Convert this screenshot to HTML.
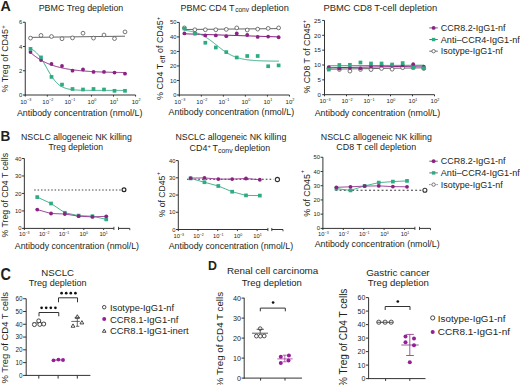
<!DOCTYPE html>
<html><head><meta charset="utf-8"><style>
html,body{margin:0;padding:0;background:#fff;}
svg{display:block;}
text{font-family:"Liberation Sans", sans-serif;}
</style></head><body>
<svg width="520" height="385" viewBox="0 0 520 385" font-family='"Liberation Sans", sans-serif' fill="#231f20">
<rect width="520" height="385" fill="#fff"/>
<text x="0.4" y="11" font-size="14" font-weight="bold" textLength="10.3" lengthAdjust="spacingAndGlyphs">A</text>
<text x="0.5" y="140.9" font-size="14.2" font-weight="bold" textLength="9.8" lengthAdjust="spacingAndGlyphs">B</text>
<text x="0.4" y="279.7" font-size="16" font-weight="bold" textLength="10.4" lengthAdjust="spacingAndGlyphs">C</text>
<text x="207.9" y="269.8" font-size="12.4" font-weight="bold">D</text>
<text x="81" y="10.6" font-size="8.9" text-anchor="middle" textLength="84.6" lengthAdjust="spacingAndGlyphs">PBMC Treg depletion</text>
<line x1="25.25" y1="22.25" x2="25.25" y2="95.5" stroke="#333" stroke-width="1" />
<line x1="22.95" y1="95" x2="25.25" y2="95" stroke="#333" stroke-width="1" />
<text x="22.35" y="97.09" font-size="5.8" text-anchor="end">0</text>
<line x1="22.95" y1="70.75" x2="25.25" y2="70.75" stroke="#333" stroke-width="1" />
<text x="22.35" y="72.84" font-size="5.8" text-anchor="end">2</text>
<line x1="22.95" y1="46.5" x2="25.25" y2="46.5" stroke="#333" stroke-width="1" />
<text x="22.35" y="48.59" font-size="5.8" text-anchor="end">4</text>
<line x1="22.95" y1="22.25" x2="25.25" y2="22.25" stroke="#333" stroke-width="1" />
<text x="22.35" y="24.34" font-size="5.8" text-anchor="end">6</text>
<line x1="24.75" y1="95" x2="135.6" y2="95" stroke="#333" stroke-width="1" />
<line x1="25.25" y1="95" x2="25.25" y2="96.6" stroke="#333" stroke-width="1" />
<text x="25.75" y="103.6" font-size="6" text-anchor="middle" fill="#231f20">10<tspan font-size="3.72" dy="-2.16">&#8722;3</tspan></text>
<line x1="47.32" y1="95" x2="47.32" y2="96.6" stroke="#333" stroke-width="1" />
<text x="47.82" y="103.6" font-size="6" text-anchor="middle" fill="#231f20">10<tspan font-size="3.72" dy="-2.16">&#8722;2</tspan></text>
<line x1="69.39" y1="95" x2="69.39" y2="96.6" stroke="#333" stroke-width="1" />
<text x="69.89" y="103.6" font-size="6" text-anchor="middle" fill="#231f20">10<tspan font-size="3.72" dy="-2.16">&#8722;1</tspan></text>
<line x1="91.46" y1="95" x2="91.46" y2="96.6" stroke="#333" stroke-width="1" />
<text x="91.96" y="103.6" font-size="6" text-anchor="middle" fill="#231f20">10<tspan font-size="3.72" dy="-2.16">0</tspan></text>
<line x1="113.53" y1="95" x2="113.53" y2="96.6" stroke="#333" stroke-width="1" />
<text x="114.03" y="103.6" font-size="6" text-anchor="middle" fill="#231f20">10<tspan font-size="3.72" dy="-2.16">1</tspan></text>
<line x1="135.6" y1="95" x2="135.6" y2="96.6" stroke="#333" stroke-width="1" />
<text x="136.1" y="103.6" font-size="6" text-anchor="middle" fill="#231f20">10<tspan font-size="3.72" dy="-2.16">2</tspan></text>
<text x="79.7" y="115.6" font-size="8.9" text-anchor="middle" textLength="125.6" lengthAdjust="spacingAndGlyphs">Antibody concentration (nmol/L)</text>
<text x="0" y="0" transform="translate(8.3 92.6) rotate(-90)" font-size="8.94" textLength="63.6" lengthAdjust="spacingAndGlyphs">% Treg of CD45</text>
<text x="0" y="0" transform="translate(4.9 28.8) rotate(-90)" font-size="6">+</text>
<line x1="30.5" y1="37.4" x2="125" y2="36.2" stroke="#555" stroke-width="0.9" />
<polyline points="30.5,52.4 31,52.86 31.5,53.31 32,53.74 32.5,54.17 33,54.59 33.5,55 34,55.4 34.5,55.79 35,56.17 35.5,56.55 36,56.91 36.5,57.27 37,57.62 37.5,57.96 38,58.29 38.5,58.62 39,58.94 39.5,59.25 40,59.55 40.5,59.85 41,60.14 41.5,60.43 42,60.7 42.5,60.98 43,61.24 43.5,61.5 44,61.76 44.5,62 45,62.25 45.5,62.48 46,62.72 46.5,62.94 47,63.16 47.5,63.38 48,63.59 48.5,63.8 49,64 49.5,64.2 50,64.39 50.5,64.58 51,64.77 51.5,64.95 52,65.12 52.5,65.3 53,65.46 53.5,65.63 54,65.79 54.5,65.95 55,66.1 55.5,66.25 56,66.4 56.5,66.54 57,66.68 57.5,66.82 58,66.96 58.5,67.09 59,67.22 59.5,67.34 60,67.46 60.5,67.58 61,67.7 61.5,67.81 62,67.93 62.5,68.04 63,68.14 63.5,68.25 64,68.35 64.5,68.45 65,68.55 65.5,68.64 66,68.74 66.5,68.83 67,68.92 67.5,69 68,69.09 68.5,69.17 69,69.26 69.5,69.33 70,69.41 70.5,69.49 71,69.56 71.5,69.64 72,69.71 72.5,69.78 73,69.84 73.5,69.91 74,69.98 74.5,70.04 75,70.1 75.5,70.16 76,70.22 76.5,70.28 77,70.34 77.5,70.39 78,70.45 78.5,70.5 79,70.55 79.5,70.6 80,70.65 80.5,70.7 81,70.75 81.5,70.79 82,70.84 82.5,70.88 83,70.92 83.5,70.97 84,71.01 84.5,71.05 85,71.09 85.5,71.13 86,71.16 86.5,71.2 87,71.24 87.5,71.27 88,71.31 88.5,71.34 89,71.37 89.5,71.4 90,71.44 90.5,71.47 91,71.5 91.5,71.53 92,71.55 92.5,71.58 93,71.61 93.5,71.64 94,71.66 94.5,71.69 95,71.71 95.5,71.74 96,71.76 96.5,71.78 97,71.81 97.5,71.83 98,71.85 98.5,71.87 99,71.89 99.5,71.91 100,71.93 100.5,71.95 101,71.97 101.5,71.99 102,72.01 102.5,72.03 103,72.04 103.5,72.06 104,72.08 104.5,72.09 105,72.11 105.5,72.13 106,72.14 106.5,72.16 107,72.17 107.5,72.18 108,72.2 108.5,72.21 109,72.22 109.5,72.24 110,72.25 110.5,72.26 111,72.27 111.5,72.29 112,72.3 112.5,72.31 113,72.32 113.5,72.33 114,72.34 114.5,72.35 115,72.36 115.5,72.37 116,72.38 116.5,72.39 117,72.4 117.5,72.41 118,72.42 118.5,72.43 119,72.43 119.5,72.44 120,72.45 120.5,72.46 121,72.47 121.5,72.47 122,72.48 122.5,72.49 123,72.5 123.5,72.5 124,72.51 124.5,72.52 125,72.52" fill="none" stroke="#8a2283" stroke-width="1" />
<polyline points="30.5,48.59 31,48.84 31.5,49.1 32,49.38 32.5,49.68 33,50 33.5,50.34 34,50.7 34.5,51.08 35,51.49 35.5,51.92 36,52.38 36.5,52.86 37,53.37 37.5,53.9 38,54.46 38.5,55.05 39,55.67 39.5,56.31 40,56.98 40.5,57.68 41,58.4 41.5,59.14 42,59.91 42.5,60.7 43,61.52 43.5,62.35 44,63.19 44.5,64.05 45,64.92 45.5,65.8 46,66.69 46.5,67.58 47,68.47 47.5,69.36 48,70.25 48.5,71.13 49,72 49.5,72.85 50,73.69 50.5,74.52 51,75.32 51.5,76.1 52,76.87 52.5,77.6 53,78.32 53.5,79.01 54,79.67 54.5,80.3 55,80.91 55.5,81.49 56,82.04 56.5,82.57 57,83.07 57.5,83.54 58,83.99 58.5,84.41 59,84.81 59.5,85.19 60,85.54 60.5,85.87 61,86.19 61.5,86.48 62,86.75 62.5,87.01 63,87.25 63.5,87.48 64,87.69 64.5,87.88 65,88.06 65.5,88.23 66,88.39 66.5,88.54 67,88.67 67.5,88.8 68,88.92 68.5,89.03 69,89.13 69.5,89.22 70,89.31 70.5,89.39 71,89.47 71.5,89.54 72,89.6 72.5,89.66 73,89.72 73.5,89.77 74,89.82 74.5,89.86 75,89.9 75.5,89.94 76,89.97 76.5,90.01 77,90.03 77.5,90.06 78,90.09 78.5,90.11 79,90.13 79.5,90.15 80,90.17 80.5,90.19 81,90.21 81.5,90.22 82,90.23 82.5,90.25 83,90.26 83.5,90.27 84,90.28 84.5,90.29 85,90.3 85.5,90.3 86,90.31 86.5,90.32 87,90.32 87.5,90.33 88,90.34 88.5,90.34 89,90.35 89.5,90.35 90,90.35 90.5,90.36 91,90.36 91.5,90.36 92,90.37 92.5,90.37 93,90.37 93.5,90.37 94,90.38 94.5,90.38 95,90.38 95.5,90.38 96,90.38 96.5,90.38 97,90.38 97.5,90.39 98,90.39 98.5,90.39 99,90.39 99.5,90.39 100,90.39 100.5,90.39 101,90.39 101.5,90.39 102,90.39 102.5,90.39 103,90.39 103.5,90.39 104,90.39 104.5,90.4 105,90.4 105.5,90.4 106,90.4 106.5,90.4 107,90.4 107.5,90.4 108,90.4 108.5,90.4 109,90.4 109.5,90.4 110,90.4 110.5,90.4 111,90.4 111.5,90.4 112,90.4 112.5,90.4 113,90.4 113.5,90.4 114,90.4 114.5,90.4 115,90.4 115.5,90.4 116,90.4 116.5,90.4 117,90.4 117.5,90.4 118,90.4 118.5,90.4 119,90.4 119.5,90.4 120,90.4 120.5,90.4 121,90.4 121.5,90.4 122,90.4 122.5,90.4 123,90.4 123.5,90.4 124,90.4 124.5,90.4 125,90.4" fill="none" stroke="#2fab83" stroke-width="1" />
<circle cx="30.5" cy="38.1" r="1.9" fill="white" stroke="#555" stroke-width="0.8"/>
<circle cx="41" cy="35.4" r="1.9" fill="white" stroke="#555" stroke-width="0.8"/>
<circle cx="51.5" cy="36.5" r="1.9" fill="white" stroke="#555" stroke-width="0.8"/>
<circle cx="62" cy="38.75" r="1.9" fill="white" stroke="#555" stroke-width="0.8"/>
<circle cx="72.5" cy="37.9" r="1.9" fill="white" stroke="#555" stroke-width="0.8"/>
<circle cx="83" cy="33.2" r="1.9" fill="white" stroke="#555" stroke-width="0.8"/>
<circle cx="93.5" cy="38.1" r="1.9" fill="white" stroke="#555" stroke-width="0.8"/>
<circle cx="104" cy="35" r="1.9" fill="white" stroke="#555" stroke-width="0.8"/>
<circle cx="114.5" cy="38.6" r="1.9" fill="white" stroke="#555" stroke-width="0.8"/>
<circle cx="125" cy="31.9" r="1.9" fill="white" stroke="#555" stroke-width="0.8"/>
<circle cx="30.5" cy="52.1" r="1.9" fill="#8a2283"/>
<circle cx="41" cy="60" r="1.9" fill="#8a2283"/>
<circle cx="51.5" cy="64" r="1.9" fill="#8a2283"/>
<circle cx="62" cy="66" r="1.9" fill="#8a2283"/>
<circle cx="72.5" cy="70.7" r="1.9" fill="#8a2283"/>
<circle cx="83" cy="69.5" r="1.9" fill="#8a2283"/>
<circle cx="93.5" cy="71.9" r="1.9" fill="#8a2283"/>
<circle cx="104" cy="71.9" r="1.9" fill="#8a2283"/>
<circle cx="114.5" cy="72.6" r="1.9" fill="#8a2283"/>
<circle cx="125" cy="73.7" r="1.9" fill="#8a2283"/>
<rect x="28.65" y="47.05" width="3.7" height="3.7" fill="#2fab83"/>
<rect x="39.15" y="55.55" width="3.7" height="3.7" fill="#2fab83"/>
<rect x="49.65" y="75.05" width="3.7" height="3.7" fill="#2fab83"/>
<rect x="60.15" y="82.75" width="3.7" height="3.7" fill="#2fab83"/>
<rect x="70.65" y="87.15" width="3.7" height="3.7" fill="#2fab83"/>
<rect x="81.15" y="87.65" width="3.7" height="3.7" fill="#2fab83"/>
<rect x="91.65" y="87.15" width="3.7" height="3.7" fill="#2fab83"/>
<rect x="102.15" y="87.65" width="3.7" height="3.7" fill="#2fab83"/>
<rect x="112.65" y="88.95" width="3.7" height="3.7" fill="#2fab83"/>
<rect x="123.15" y="88.95" width="3.7" height="3.7" fill="#2fab83"/>
<text x="180.5" y="10.5" font-size="8.96" textLength="54.1" lengthAdjust="spacingAndGlyphs">PBMC CD4 T</text>
<text x="235.2" y="12.4" font-size="6.5" textLength="13.8" lengthAdjust="spacingAndGlyphs">conv</text>
<text x="251.3" y="10.5" font-size="9.2" textLength="37.6" lengthAdjust="spacingAndGlyphs">depletion</text>
<line x1="179.3" y1="22.4" x2="179.3" y2="95.5" stroke="#333" stroke-width="1" />
<line x1="177" y1="95" x2="179.3" y2="95" stroke="#333" stroke-width="1" />
<text x="176.4" y="97.09" font-size="5.8" text-anchor="end">0</text>
<line x1="177" y1="80.48" x2="179.3" y2="80.48" stroke="#333" stroke-width="1" />
<text x="176.4" y="82.57" font-size="5.8" text-anchor="end">10</text>
<line x1="177" y1="65.96" x2="179.3" y2="65.96" stroke="#333" stroke-width="1" />
<text x="176.4" y="68.05" font-size="5.8" text-anchor="end">20</text>
<line x1="177" y1="51.44" x2="179.3" y2="51.44" stroke="#333" stroke-width="1" />
<text x="176.4" y="53.53" font-size="5.8" text-anchor="end">30</text>
<line x1="177" y1="36.92" x2="179.3" y2="36.92" stroke="#333" stroke-width="1" />
<text x="176.4" y="39.01" font-size="5.8" text-anchor="end">40</text>
<line x1="177" y1="22.4" x2="179.3" y2="22.4" stroke="#333" stroke-width="1" />
<text x="176.4" y="24.49" font-size="5.8" text-anchor="end">50</text>
<line x1="178.8" y1="95" x2="289.45" y2="95" stroke="#333" stroke-width="1" />
<line x1="179.3" y1="95" x2="179.3" y2="96.6" stroke="#333" stroke-width="1" />
<text x="179.8" y="103.6" font-size="6" text-anchor="middle" fill="#231f20">10<tspan font-size="3.72" dy="-2.16">&#8722;3</tspan></text>
<line x1="201.33" y1="95" x2="201.33" y2="96.6" stroke="#333" stroke-width="1" />
<text x="201.83" y="103.6" font-size="6" text-anchor="middle" fill="#231f20">10<tspan font-size="3.72" dy="-2.16">&#8722;2</tspan></text>
<line x1="223.36" y1="95" x2="223.36" y2="96.6" stroke="#333" stroke-width="1" />
<text x="223.86" y="103.6" font-size="6" text-anchor="middle" fill="#231f20">10<tspan font-size="3.72" dy="-2.16">&#8722;1</tspan></text>
<line x1="245.39" y1="95" x2="245.39" y2="96.6" stroke="#333" stroke-width="1" />
<text x="245.89" y="103.6" font-size="6" text-anchor="middle" fill="#231f20">10<tspan font-size="3.72" dy="-2.16">0</tspan></text>
<line x1="267.42" y1="95" x2="267.42" y2="96.6" stroke="#333" stroke-width="1" />
<text x="267.92" y="103.6" font-size="6" text-anchor="middle" fill="#231f20">10<tspan font-size="3.72" dy="-2.16">1</tspan></text>
<line x1="289.45" y1="95" x2="289.45" y2="96.6" stroke="#333" stroke-width="1" />
<text x="289.95" y="103.6" font-size="6" text-anchor="middle" fill="#231f20">10<tspan font-size="3.72" dy="-2.16">2</tspan></text>
<text x="231.3" y="115.3" font-size="8.9" text-anchor="middle" textLength="125.6" lengthAdjust="spacingAndGlyphs">Antibody concentration (nmol/L)</text>
<text x="0" y="0" transform="translate(163 100) rotate(-90)" font-size="9" textLength="36.3" lengthAdjust="spacingAndGlyphs">% CD4 T</text>
<text x="0" y="0" transform="translate(164.9 62.9) rotate(-90)" font-size="6.6" textLength="7.2" lengthAdjust="spacingAndGlyphs">eff</text>
<text x="0" y="0" transform="translate(163 53) rotate(-90)" font-size="9" textLength="32.6" lengthAdjust="spacingAndGlyphs">of CD45</text>
<text x="0" y="0" transform="translate(159.6 20.2) rotate(-90)" font-size="6">+</text>
<line x1="184.4" y1="29.5" x2="278.8" y2="28.6" stroke="#555" stroke-width="0.9" />
<polyline points="184.4,33.8 278.8,36.92" fill="none" stroke="#8a2283" stroke-width="1" />
<polyline points="184.4,30.25 184.9,30.31 185.4,30.37 185.9,30.44 186.4,30.51 186.9,30.59 187.4,30.66 187.9,30.74 188.4,30.83 188.9,30.92 189.4,31.01 189.9,31.11 190.4,31.21 190.9,31.31 191.4,31.42 191.9,31.53 192.4,31.65 192.9,31.78 193.4,31.91 193.9,32.04 194.4,32.18 194.9,32.33 195.4,32.48 195.9,32.64 196.4,32.8 196.9,32.98 197.4,33.15 197.9,33.34 198.4,33.53 198.9,33.73 199.4,33.93 199.9,34.14 200.4,34.36 200.9,34.59 201.4,34.83 201.9,35.07 202.4,35.32 202.9,35.58 203.4,35.84 203.9,36.12 204.4,36.4 204.9,36.69 205.4,36.98 205.9,37.29 206.4,37.6 206.9,37.92 207.4,38.24 207.9,38.57 208.4,38.91 208.9,39.26 209.4,39.61 209.9,39.97 210.4,40.34 210.9,40.71 211.4,41.08 211.9,41.46 212.4,41.84 212.9,42.23 213.4,42.62 213.9,43.02 214.4,43.42 214.9,43.81 215.4,44.22 215.9,44.62 216.4,45.02 216.9,45.42 217.4,45.82 217.9,46.23 218.4,46.62 218.9,47.02 219.4,47.42 219.9,47.81 220.4,48.2 220.9,48.59 221.4,48.97 221.9,49.34 222.4,49.72 222.9,50.08 223.4,50.44 223.9,50.8 224.4,51.15 224.9,51.49 225.4,51.83 225.9,52.16 226.4,52.48 226.9,52.79 227.4,53.1 227.9,53.4 228.4,53.69 228.9,53.97 229.4,54.25 229.9,54.52 230.4,54.78 230.9,55.03 231.4,55.28 231.9,55.52 232.4,55.75 232.9,55.97 233.4,56.18 233.9,56.39 234.4,56.59 234.9,56.79 235.4,56.97 235.9,57.15 236.4,57.33 236.9,57.49 237.4,57.66 237.9,57.81 238.4,57.96 238.9,58.1 239.4,58.24 239.9,58.37 240.4,58.5 240.9,58.62 241.4,58.73 241.9,58.85 242.4,58.95 242.9,59.06 243.4,59.15 243.9,59.25 244.4,59.34 244.9,59.42 245.4,59.5 245.9,59.58 246.4,59.66 246.9,59.73 247.4,59.8 247.9,59.86 248.4,59.93 248.9,59.99 249.4,60.04 249.9,60.1 250.4,60.15 250.9,60.2 251.4,60.25 251.9,60.29 252.4,60.34 252.9,60.38 253.4,60.42 253.9,60.45 254.4,60.49 254.9,60.52 255.4,60.55 255.9,60.59 256.4,60.62 256.9,60.64 257.4,60.67 257.9,60.7 258.4,60.72 258.9,60.74 259.4,60.76 259.9,60.79 260.4,60.81 260.9,60.82 261.4,60.84 261.9,60.86 262.4,60.88 262.9,60.89 263.4,60.91 263.9,60.92 264.4,60.93 264.9,60.95 265.4,60.96 265.9,60.97 266.4,60.98 266.9,60.99 267.4,61 267.9,61.01 268.4,61.02 268.9,61.03 269.4,61.04 269.9,61.05 270.4,61.05 270.9,61.06 271.4,61.07 271.9,61.07 272.4,61.08 272.9,61.09 273.4,61.09 273.9,61.1 274.4,61.1 274.9,61.11 275.4,61.11 275.9,61.12 276.4,61.12 276.9,61.12 277.4,61.13 277.9,61.13 278.4,61.13 278.9,61.14" fill="none" stroke="#2fab83" stroke-width="1" />
<circle cx="184.4" cy="27.9" r="1.9" fill="white" stroke="#555" stroke-width="0.8"/>
<circle cx="194.87" cy="29.75" r="1.9" fill="white" stroke="#555" stroke-width="0.8"/>
<circle cx="205.34" cy="29.75" r="1.9" fill="white" stroke="#555" stroke-width="0.8"/>
<circle cx="215.81" cy="29.75" r="1.9" fill="white" stroke="#555" stroke-width="0.8"/>
<circle cx="226.28" cy="29.4" r="1.9" fill="white" stroke="#555" stroke-width="0.8"/>
<circle cx="236.75" cy="27.9" r="1.9" fill="white" stroke="#555" stroke-width="0.8"/>
<circle cx="247.22" cy="30" r="1.9" fill="white" stroke="#555" stroke-width="0.8"/>
<circle cx="257.69" cy="29.1" r="1.9" fill="white" stroke="#555" stroke-width="0.8"/>
<circle cx="268.16" cy="28.4" r="1.9" fill="white" stroke="#555" stroke-width="0.8"/>
<circle cx="278.63" cy="27.9" r="1.9" fill="white" stroke="#555" stroke-width="0.8"/>
<circle cx="184.4" cy="33.4" r="1.9" fill="#8a2283"/>
<circle cx="194.87" cy="33.4" r="1.9" fill="#8a2283"/>
<circle cx="205.34" cy="35.4" r="1.9" fill="#8a2283"/>
<circle cx="215.81" cy="35.4" r="1.9" fill="#8a2283"/>
<circle cx="226.28" cy="36.2" r="1.9" fill="#8a2283"/>
<circle cx="236.75" cy="33.4" r="1.9" fill="#8a2283"/>
<circle cx="247.22" cy="35" r="1.9" fill="#8a2283"/>
<circle cx="257.69" cy="36.9" r="1.9" fill="#8a2283"/>
<circle cx="268.16" cy="36.6" r="1.9" fill="#8a2283"/>
<circle cx="278.63" cy="37.25" r="1.9" fill="#8a2283"/>
<rect x="182.55" y="26.75" width="3.7" height="3.7" fill="#2fab83"/>
<rect x="193.02" y="31.75" width="3.7" height="3.7" fill="#2fab83"/>
<rect x="203.49" y="40.9" width="3.7" height="3.7" fill="#2fab83"/>
<rect x="213.96" y="45.65" width="3.7" height="3.7" fill="#2fab83"/>
<rect x="224.43" y="50.25" width="3.7" height="3.7" fill="#2fab83"/>
<rect x="234.9" y="55.65" width="3.7" height="3.7" fill="#2fab83"/>
<rect x="245.37" y="54.15" width="3.7" height="3.7" fill="#2fab83"/>
<rect x="255.84" y="54.15" width="3.7" height="3.7" fill="#2fab83"/>
<rect x="266.31" y="64.4" width="3.7" height="3.7" fill="#2fab83"/>
<rect x="276.78" y="63.55" width="3.7" height="3.7" fill="#2fab83"/>
<text x="380.35" y="10.5" font-size="9.2" text-anchor="middle" textLength="113.7" lengthAdjust="spacingAndGlyphs">PBMC CD8 T-cell depletion</text>
<line x1="324.5" y1="20.4" x2="324.5" y2="95.2" stroke="#333" stroke-width="1" />
<line x1="322.2" y1="94.7" x2="324.5" y2="94.7" stroke="#333" stroke-width="1" />
<text x="320.9" y="96.9" font-size="6.1" text-anchor="end">0</text>
<line x1="322.2" y1="79.85" x2="324.5" y2="79.85" stroke="#333" stroke-width="1" />
<text x="320.9" y="82.05" font-size="6.1" text-anchor="end">5</text>
<line x1="322.2" y1="65" x2="324.5" y2="65" stroke="#333" stroke-width="1" />
<text x="320.9" y="67.2" font-size="6.1" text-anchor="end">10</text>
<line x1="322.2" y1="50.15" x2="324.5" y2="50.15" stroke="#333" stroke-width="1" />
<text x="320.9" y="52.35" font-size="6.1" text-anchor="end">15</text>
<line x1="322.2" y1="35.3" x2="324.5" y2="35.3" stroke="#333" stroke-width="1" />
<text x="320.9" y="37.5" font-size="6.1" text-anchor="end">20</text>
<line x1="322.2" y1="20.45" x2="324.5" y2="20.45" stroke="#333" stroke-width="1" />
<text x="320.9" y="22.65" font-size="6.1" text-anchor="end">25</text>
<line x1="324" y1="94.7" x2="434.5" y2="94.7" stroke="#333" stroke-width="1" />
<line x1="324.5" y1="94.7" x2="324.5" y2="96.3" stroke="#333" stroke-width="1" />
<text x="325" y="103.3" font-size="6" text-anchor="middle" fill="#231f20">10<tspan font-size="3.72" dy="-2.16">&#8722;3</tspan></text>
<line x1="346.5" y1="94.7" x2="346.5" y2="96.3" stroke="#333" stroke-width="1" />
<text x="347" y="103.3" font-size="6" text-anchor="middle" fill="#231f20">10<tspan font-size="3.72" dy="-2.16">&#8722;2</tspan></text>
<line x1="368.5" y1="94.7" x2="368.5" y2="96.3" stroke="#333" stroke-width="1" />
<text x="369" y="103.3" font-size="6" text-anchor="middle" fill="#231f20">10<tspan font-size="3.72" dy="-2.16">&#8722;1</tspan></text>
<line x1="390.5" y1="94.7" x2="390.5" y2="96.3" stroke="#333" stroke-width="1" />
<text x="391" y="103.3" font-size="6" text-anchor="middle" fill="#231f20">10<tspan font-size="3.72" dy="-2.16">0</tspan></text>
<line x1="412.5" y1="94.7" x2="412.5" y2="96.3" stroke="#333" stroke-width="1" />
<text x="413" y="103.3" font-size="6" text-anchor="middle" fill="#231f20">10<tspan font-size="3.72" dy="-2.16">1</tspan></text>
<line x1="434.5" y1="94.7" x2="434.5" y2="96.3" stroke="#333" stroke-width="1" />
<text x="435" y="103.3" font-size="6" text-anchor="middle" fill="#231f20">10<tspan font-size="3.72" dy="-2.16">2</tspan></text>
<text x="377.5" y="115.6" font-size="8.9" text-anchor="middle" textLength="125.6" lengthAdjust="spacingAndGlyphs">Antibody concentration (nmol/L)</text>
<text x="0" y="0" transform="translate(309.9 93.6) rotate(-90)" font-size="9.2" textLength="70.2" lengthAdjust="spacingAndGlyphs">% CD8 T of CD45</text>
<text x="0" y="0" transform="translate(306 23.4) rotate(-90)" font-size="6">+</text>
<line x1="328.8" y1="69.2" x2="423.8" y2="67.8" stroke="#555" stroke-width="0.9" />
<line x1="328.8" y1="67.8" x2="423.8" y2="66" stroke="#8a2283" stroke-width="1" />
<line x1="328.8" y1="65.8" x2="423.8" y2="65.2" stroke="#2fab83" stroke-width="1" />
<circle cx="328.8" cy="68.5" r="1.9" fill="white" stroke="#555" stroke-width="0.8"/>
<circle cx="339.35" cy="69.5" r="1.9" fill="white" stroke="#555" stroke-width="0.8"/>
<circle cx="349.9" cy="71.1" r="1.9" fill="white" stroke="#555" stroke-width="0.8"/>
<circle cx="360.45" cy="69.5" r="1.9" fill="white" stroke="#555" stroke-width="0.8"/>
<circle cx="371" cy="69.6" r="1.9" fill="white" stroke="#555" stroke-width="0.8"/>
<circle cx="381.55" cy="68.5" r="1.9" fill="white" stroke="#555" stroke-width="0.8"/>
<circle cx="392.1" cy="69.2" r="1.9" fill="white" stroke="#555" stroke-width="0.8"/>
<circle cx="402.65" cy="67.7" r="1.9" fill="white" stroke="#555" stroke-width="0.8"/>
<circle cx="413.2" cy="67.5" r="1.9" fill="white" stroke="#555" stroke-width="0.8"/>
<circle cx="423.75" cy="68.5" r="1.9" fill="white" stroke="#555" stroke-width="0.8"/>
<circle cx="328.8" cy="67.1" r="1.9" fill="#8a2283"/>
<circle cx="339.35" cy="68.5" r="1.9" fill="#8a2283"/>
<circle cx="349.9" cy="67.9" r="1.9" fill="#8a2283"/>
<circle cx="360.45" cy="68.3" r="1.9" fill="#8a2283"/>
<circle cx="371" cy="66.5" r="1.9" fill="#8a2283"/>
<circle cx="381.55" cy="65.5" r="1.9" fill="#8a2283"/>
<circle cx="392.1" cy="65.4" r="1.9" fill="#8a2283"/>
<circle cx="402.65" cy="65.4" r="1.9" fill="#8a2283"/>
<circle cx="413.2" cy="64.2" r="1.9" fill="#8a2283"/>
<circle cx="423.75" cy="66.6" r="1.9" fill="#8a2283"/>
<rect x="326.95" y="67.75" width="3.7" height="3.7" fill="#2fab83"/>
<rect x="337.5" y="63.15" width="3.7" height="3.7" fill="#2fab83"/>
<rect x="348.05" y="62.95" width="3.7" height="3.7" fill="#2fab83"/>
<rect x="358.6" y="60.65" width="3.7" height="3.7" fill="#2fab83"/>
<rect x="369.15" y="61.65" width="3.7" height="3.7" fill="#2fab83"/>
<rect x="379.7" y="61.65" width="3.7" height="3.7" fill="#2fab83"/>
<rect x="390.25" y="62.65" width="3.7" height="3.7" fill="#2fab83"/>
<rect x="400.8" y="61.25" width="3.7" height="3.7" fill="#2fab83"/>
<rect x="411.35" y="65.85" width="3.7" height="3.7" fill="#2fab83"/>
<rect x="421.9" y="66.35" width="3.7" height="3.7" fill="#2fab83"/>
<line x1="429.3" y1="27.9" x2="437.8" y2="27.9" stroke="#444" stroke-width="0.8" />
<circle cx="433.6" cy="27.9" r="1.9" fill="#8a2283"/>
<text x="440.8" y="31" font-size="8.9" textLength="64.8" lengthAdjust="spacingAndGlyphs">CCR8.2-IgG1-nf</text>
<line x1="429.3" y1="39.55" x2="437.8" y2="39.55" stroke="#444" stroke-width="0.8" />
<rect x="431.9" y="37.85" width="3.4" height="3.4" fill="#2fab83"/>
<text x="440.8" y="42.65" font-size="8.9" textLength="79" lengthAdjust="spacingAndGlyphs">Anti&#8211;CCR4-IgG1-nf</text>
<line x1="429.3" y1="51.2" x2="437.8" y2="51.2" stroke="#444" stroke-width="0.8" />
<circle cx="433.6" cy="51.2" r="1.7" fill="white" stroke="#555" stroke-width="0.8"/>
<text x="440.8" y="54.3" font-size="8.9" textLength="61.9" lengthAdjust="spacingAndGlyphs">Isotype-IgG1-nf</text>
<text x="76.4" y="140.3" font-size="8.8" text-anchor="middle" textLength="110.9" lengthAdjust="spacingAndGlyphs">NSCLC allogeneic NK killing</text>
<text x="75.7" y="149.6" font-size="8.6" text-anchor="middle" textLength="54.5" lengthAdjust="spacingAndGlyphs">Treg depletion</text>
<line x1="24.35" y1="158.5" x2="24.35" y2="228.9" stroke="#333" stroke-width="1" />
<line x1="22.05" y1="228.4" x2="24.35" y2="228.4" stroke="#333" stroke-width="1" />
<text x="21.45" y="230.49" font-size="5.8" text-anchor="end">0</text>
<line x1="22.05" y1="210.93" x2="24.35" y2="210.93" stroke="#333" stroke-width="1" />
<text x="21.45" y="213.01" font-size="5.8" text-anchor="end">10</text>
<line x1="22.05" y1="193.45" x2="24.35" y2="193.45" stroke="#333" stroke-width="1" />
<text x="21.45" y="195.54" font-size="5.8" text-anchor="end">20</text>
<line x1="22.05" y1="175.97" x2="24.35" y2="175.97" stroke="#333" stroke-width="1" />
<text x="21.45" y="178.06" font-size="5.8" text-anchor="end">30</text>
<line x1="22.05" y1="158.5" x2="24.35" y2="158.5" stroke="#333" stroke-width="1" />
<text x="21.45" y="160.59" font-size="5.8" text-anchor="end">40</text>
<line x1="23.85" y1="228.4" x2="103.63" y2="228.4" stroke="#333" stroke-width="1" />
<line x1="24.35" y1="228.4" x2="24.35" y2="230" stroke="#333" stroke-width="1" />
<text x="24.35" y="236.3" font-size="5.8" text-anchor="middle" fill="#231f20">10<tspan font-size="3.6" dy="-2.09">&#8722;3</tspan></text>
<line x1="44.17" y1="228.4" x2="44.17" y2="230" stroke="#333" stroke-width="1" />
<text x="44.17" y="236.3" font-size="5.8" text-anchor="middle" fill="#231f20">10<tspan font-size="3.6" dy="-2.09">&#8722;2</tspan></text>
<line x1="63.99" y1="228.4" x2="63.99" y2="230" stroke="#333" stroke-width="1" />
<text x="63.99" y="236.3" font-size="5.8" text-anchor="middle" fill="#231f20">10<tspan font-size="3.6" dy="-2.09">&#8722;1</tspan></text>
<line x1="83.81" y1="228.4" x2="83.81" y2="230" stroke="#333" stroke-width="1" />
<text x="83.81" y="236.3" font-size="5.8" text-anchor="middle" fill="#231f20">10<tspan font-size="3.6" dy="-2.09">0</tspan></text>
<line x1="103.63" y1="228.4" x2="103.63" y2="230" stroke="#333" stroke-width="1" />
<text x="103.63" y="236.3" font-size="5.8" text-anchor="middle" fill="#231f20">10<tspan font-size="3.6" dy="-2.09">1</tspan></text>
<line x1="103.6" y1="228.4" x2="113.9" y2="228.4" stroke="#333" stroke-width="1" />
<line x1="113.9" y1="226.8" x2="113.9" y2="230" stroke="#333" stroke-width="0.9" />
<line x1="118.5" y1="226.8" x2="118.5" y2="230" stroke="#333" stroke-width="0.9" />
<line x1="118.5" y1="228.4" x2="129.8" y2="228.4" stroke="#333" stroke-width="1" />
<line x1="129.8" y1="228.4" x2="129.8" y2="230.2" stroke="#333" stroke-width="0.9" />
<text x="76.9" y="248.7" font-size="8.9" text-anchor="middle" textLength="124.2" lengthAdjust="spacingAndGlyphs">Antibody concentration (nmol/L)</text>
<text x="7.7" y="195.25" font-size="8.7" text-anchor="middle" textLength="84.5" lengthAdjust="spacingAndGlyphs" transform="rotate(-90 7.7 195.25)">% Treg of CD4 T cells</text>
<line x1="34.2" y1="190" x2="121" y2="190" stroke="#444" stroke-width="1.1" stroke-dasharray="1.5 1.9"/>
<circle cx="124" cy="189.8" r="1.9" fill="white" stroke="#222" stroke-width="1.2"/>
<polyline points="37.25,197.1 51.05,203.5 64.85,212.75 78.65,215.6 92.45,216.2 106.25,219.4" fill="none" stroke="#38ab87" stroke-width="0.9" />
<polyline points="37.25,209.6 51.05,213.5 64.85,214 78.65,216.2 92.45,216.9 106.25,216.3" fill="none" stroke="#94368f" stroke-width="0.9" />
<rect x="35.4" y="195.25" width="3.7" height="3.7" fill="#2fab83"/>
<rect x="49.2" y="201.65" width="3.7" height="3.7" fill="#2fab83"/>
<rect x="63" y="210.9" width="3.7" height="3.7" fill="#2fab83"/>
<rect x="76.8" y="213.75" width="3.7" height="3.7" fill="#2fab83"/>
<rect x="90.6" y="214.35" width="3.7" height="3.7" fill="#2fab83"/>
<rect x="104.4" y="217.55" width="3.7" height="3.7" fill="#2fab83"/>
<circle cx="37.25" cy="209.6" r="1.9" fill="#8a2283"/>
<circle cx="51.05" cy="213.5" r="1.9" fill="#8a2283"/>
<circle cx="64.85" cy="214" r="1.9" fill="#8a2283"/>
<circle cx="78.65" cy="216.2" r="1.9" fill="#8a2283"/>
<circle cx="92.45" cy="216.9" r="1.9" fill="#8a2283"/>
<circle cx="106.25" cy="216.3" r="1.9" fill="#8a2283"/>
<text x="230.9" y="140" font-size="8.8" text-anchor="middle" textLength="110.8" lengthAdjust="spacingAndGlyphs">NSCLC allogeneic NK killing</text>
<text x="189.6" y="150.6" font-size="8.9">CD4</text>
<text x="207.6" y="147.6" font-size="5.8">+</text>
<text x="212.6" y="150.6" font-size="8.9">T</text>
<text x="218" y="152.5" font-size="7" textLength="14.6" lengthAdjust="spacingAndGlyphs">conv</text>
<text x="234.6" y="150.6" font-size="8.8" textLength="35.5" lengthAdjust="spacingAndGlyphs">depletion</text>
<line x1="178.3" y1="160.6" x2="178.3" y2="230" stroke="#333" stroke-width="1" />
<line x1="176" y1="229.5" x2="178.3" y2="229.5" stroke="#333" stroke-width="1" />
<text x="175.4" y="231.59" font-size="5.8" text-anchor="end">0</text>
<line x1="176" y1="212.28" x2="178.3" y2="212.28" stroke="#333" stroke-width="1" />
<text x="175.4" y="214.36" font-size="5.8" text-anchor="end">10</text>
<line x1="176" y1="195.05" x2="178.3" y2="195.05" stroke="#333" stroke-width="1" />
<text x="175.4" y="197.14" font-size="5.8" text-anchor="end">20</text>
<line x1="176" y1="177.82" x2="178.3" y2="177.82" stroke="#333" stroke-width="1" />
<text x="175.4" y="179.91" font-size="5.8" text-anchor="end">30</text>
<line x1="176" y1="160.6" x2="178.3" y2="160.6" stroke="#333" stroke-width="1" />
<text x="175.4" y="162.69" font-size="5.8" text-anchor="end">40</text>
<line x1="177.8" y1="229.5" x2="257.1" y2="229.5" stroke="#333" stroke-width="1" />
<line x1="178.3" y1="229.5" x2="178.3" y2="231.1" stroke="#333" stroke-width="1" />
<text x="178.8" y="237.9" font-size="5.8" text-anchor="middle" fill="#231f20">10<tspan font-size="3.6" dy="-2.09">&#8722;3</tspan></text>
<line x1="198" y1="229.5" x2="198" y2="231.1" stroke="#333" stroke-width="1" />
<text x="198.5" y="237.9" font-size="5.8" text-anchor="middle" fill="#231f20">10<tspan font-size="3.6" dy="-2.09">&#8722;2</tspan></text>
<line x1="217.7" y1="229.5" x2="217.7" y2="231.1" stroke="#333" stroke-width="1" />
<text x="218.2" y="237.9" font-size="5.8" text-anchor="middle" fill="#231f20">10<tspan font-size="3.6" dy="-2.09">&#8722;1</tspan></text>
<line x1="237.4" y1="229.5" x2="237.4" y2="231.1" stroke="#333" stroke-width="1" />
<text x="237.9" y="237.9" font-size="5.8" text-anchor="middle" fill="#231f20">10<tspan font-size="3.6" dy="-2.09">0</tspan></text>
<line x1="257.1" y1="229.5" x2="257.1" y2="231.1" stroke="#333" stroke-width="1" />
<text x="257.6" y="237.9" font-size="5.8" text-anchor="middle" fill="#231f20">10<tspan font-size="3.6" dy="-2.09">1</tspan></text>
<line x1="257.1" y1="229.5" x2="267.9" y2="229.5" stroke="#333" stroke-width="1" />
<line x1="267.9" y1="227.9" x2="267.9" y2="231.1" stroke="#333" stroke-width="0.9" />
<line x1="271.8" y1="227.9" x2="271.8" y2="231.1" stroke="#333" stroke-width="0.9" />
<line x1="271.8" y1="229.5" x2="283" y2="229.5" stroke="#333" stroke-width="1" />
<line x1="283" y1="229.5" x2="283" y2="231.3" stroke="#333" stroke-width="0.9" />
<text x="230.9" y="249.1" font-size="8.9" text-anchor="middle" textLength="124.4" lengthAdjust="spacingAndGlyphs">Antibody concentration (nmol/L)</text>
<text x="0" y="0" transform="translate(165.4 217.3) rotate(-90)" font-size="9" textLength="41.6" lengthAdjust="spacingAndGlyphs">% of CD45</text>
<text x="0" y="0" transform="translate(160.3 175.4) rotate(-90)" font-size="6">+</text>
<line x1="187" y1="179.2" x2="273.5" y2="179.2" stroke="#333" stroke-width="1.1" stroke-dasharray="1.7 2.05"/>
<circle cx="277.4" cy="179.5" r="2.1" fill="white" stroke="#333" stroke-width="1.1"/>
<polyline points="190.6,178.4 204.45,182.25 218.3,186 232.15,191.7 246,195.4 259.85,195.6" fill="none" stroke="#38ab87" stroke-width="0.9" />
<polyline points="190.6,178.1 204.45,177.9 218.3,179.1 232.15,179.1 246,178.5 259.85,179.75" fill="none" stroke="#94368f" stroke-width="0.9" />
<rect x="188.75" y="176.55" width="3.7" height="3.7" fill="#2fab83"/>
<rect x="202.6" y="180.4" width="3.7" height="3.7" fill="#2fab83"/>
<rect x="216.45" y="184.15" width="3.7" height="3.7" fill="#2fab83"/>
<rect x="230.3" y="189.85" width="3.7" height="3.7" fill="#2fab83"/>
<rect x="244.15" y="193.55" width="3.7" height="3.7" fill="#2fab83"/>
<rect x="258" y="193.75" width="3.7" height="3.7" fill="#2fab83"/>
<circle cx="190.6" cy="178.1" r="1.9" fill="#8a2283"/>
<circle cx="204.45" cy="177.9" r="1.9" fill="#8a2283"/>
<circle cx="218.3" cy="179.1" r="1.9" fill="#8a2283"/>
<circle cx="232.15" cy="179.1" r="1.9" fill="#8a2283"/>
<circle cx="246" cy="178.5" r="1.9" fill="#8a2283"/>
<circle cx="259.85" cy="179.75" r="1.9" fill="#8a2283"/>
<text x="376.3" y="139.6" font-size="8.8" text-anchor="middle" textLength="111" lengthAdjust="spacingAndGlyphs">NSCLC allogeneic NK killing</text>
<text x="376.3" y="150" font-size="8.9" text-anchor="middle" textLength="80" lengthAdjust="spacingAndGlyphs">CD8 T cell depletion</text>
<line x1="322.9" y1="157.25" x2="322.9" y2="228.9" stroke="#333" stroke-width="1" />
<line x1="320.6" y1="228.4" x2="322.9" y2="228.4" stroke="#333" stroke-width="1" />
<text x="320" y="230.49" font-size="5.8" text-anchor="end">0</text>
<line x1="320.6" y1="214.17" x2="322.9" y2="214.17" stroke="#333" stroke-width="1" />
<text x="320" y="216.26" font-size="5.8" text-anchor="end">10</text>
<line x1="320.6" y1="199.94" x2="322.9" y2="199.94" stroke="#333" stroke-width="1" />
<text x="320" y="202.03" font-size="5.8" text-anchor="end">20</text>
<line x1="320.6" y1="185.71" x2="322.9" y2="185.71" stroke="#333" stroke-width="1" />
<text x="320" y="187.8" font-size="5.8" text-anchor="end">30</text>
<line x1="320.6" y1="171.48" x2="322.9" y2="171.48" stroke="#333" stroke-width="1" />
<text x="320" y="173.57" font-size="5.8" text-anchor="end">40</text>
<line x1="320.6" y1="157.25" x2="322.9" y2="157.25" stroke="#333" stroke-width="1" />
<text x="320" y="159.34" font-size="5.8" text-anchor="end">50</text>
<line x1="322.4" y1="228.4" x2="404.5" y2="228.4" stroke="#333" stroke-width="1" />
<line x1="322.9" y1="228.4" x2="322.9" y2="230" stroke="#333" stroke-width="1" />
<text x="323.4" y="236.2" font-size="5.8" text-anchor="middle" fill="#231f20">10<tspan font-size="3.6" dy="-2.09">&#8722;3</tspan></text>
<line x1="343.3" y1="228.4" x2="343.3" y2="230" stroke="#333" stroke-width="1" />
<text x="343.8" y="236.2" font-size="5.8" text-anchor="middle" fill="#231f20">10<tspan font-size="3.6" dy="-2.09">&#8722;2</tspan></text>
<line x1="363.7" y1="228.4" x2="363.7" y2="230" stroke="#333" stroke-width="1" />
<text x="364.2" y="236.2" font-size="5.8" text-anchor="middle" fill="#231f20">10<tspan font-size="3.6" dy="-2.09">&#8722;1</tspan></text>
<line x1="384.1" y1="228.4" x2="384.1" y2="230" stroke="#333" stroke-width="1" />
<text x="384.6" y="236.2" font-size="5.8" text-anchor="middle" fill="#231f20">10<tspan font-size="3.6" dy="-2.09">0</tspan></text>
<line x1="404.5" y1="228.4" x2="404.5" y2="230" stroke="#333" stroke-width="1" />
<text x="405" y="236.2" font-size="5.8" text-anchor="middle" fill="#231f20">10<tspan font-size="3.6" dy="-2.09">1</tspan></text>
<line x1="404.5" y1="228.4" x2="414.9" y2="228.4" stroke="#333" stroke-width="1" />
<line x1="414.9" y1="226.8" x2="414.9" y2="230" stroke="#333" stroke-width="0.9" />
<line x1="419.5" y1="226.8" x2="419.5" y2="230" stroke="#333" stroke-width="0.9" />
<line x1="419.5" y1="228.4" x2="430.5" y2="228.4" stroke="#333" stroke-width="1" />
<line x1="430.5" y1="228.4" x2="430.5" y2="230.2" stroke="#333" stroke-width="0.9" />
<text x="377.2" y="247.4" font-size="8.9" text-anchor="middle" textLength="125" lengthAdjust="spacingAndGlyphs">Antibody concentration (nmol/L)</text>
<text x="0" y="0" transform="translate(309.8 216.8) rotate(-90)" font-size="9.2" textLength="42.6" lengthAdjust="spacingAndGlyphs">% of CD45</text>
<text x="0" y="0" transform="translate(304.4 173.6) rotate(-90)" font-size="6">+</text>
<line x1="335.4" y1="190.2" x2="422" y2="190.2" stroke="#333" stroke-width="1.1" stroke-dasharray="1.9 2.3"/>
<circle cx="424.9" cy="190.2" r="2" fill="white" stroke="#333" stroke-width="1.1"/>
<polyline points="336.4,188.6 350.52,190.4 364.64,185.9 378.76,182.6 392.88,181.6 407,180.9" fill="none" stroke="#38ab87" stroke-width="0.9" />
<polyline points="336.4,187.3 350.52,186.8 364.64,186.1 378.76,185.9 392.88,186.6 407,186.8" fill="none" stroke="#94368f" stroke-width="0.9" />
<rect x="334.55" y="186.75" width="3.7" height="3.7" fill="#2fab83"/>
<rect x="348.67" y="188.55" width="3.7" height="3.7" fill="#2fab83"/>
<rect x="362.79" y="184.05" width="3.7" height="3.7" fill="#2fab83"/>
<rect x="376.91" y="180.75" width="3.7" height="3.7" fill="#2fab83"/>
<rect x="391.03" y="179.75" width="3.7" height="3.7" fill="#2fab83"/>
<rect x="405.15" y="179.05" width="3.7" height="3.7" fill="#2fab83"/>
<circle cx="336.4" cy="187.3" r="1.9" fill="#8a2283"/>
<circle cx="350.52" cy="186.8" r="1.9" fill="#8a2283"/>
<circle cx="364.64" cy="186.1" r="1.9" fill="#8a2283"/>
<circle cx="378.76" cy="185.9" r="1.9" fill="#8a2283"/>
<circle cx="392.88" cy="186.6" r="1.9" fill="#8a2283"/>
<circle cx="407" cy="186.8" r="1.9" fill="#8a2283"/>
<line x1="429.3" y1="161.2" x2="437.8" y2="161.2" stroke="#444" stroke-width="0.8" />
<circle cx="433.6" cy="161.2" r="1.9" fill="#8a2283"/>
<text x="440.8" y="164.3" font-size="8.9" textLength="64.8" lengthAdjust="spacingAndGlyphs">CCR8.2-IgG1-nf</text>
<line x1="429.3" y1="172.9" x2="437.8" y2="172.9" stroke="#444" stroke-width="0.8" />
<rect x="431.9" y="171.2" width="3.4" height="3.4" fill="#2fab83"/>
<text x="440.8" y="176" font-size="8.9" textLength="79" lengthAdjust="spacingAndGlyphs">Anti&#8211;CCR4-IgG1-nf</text>
<line x1="429.3" y1="184.6" x2="437.8" y2="184.6" stroke="#444" stroke-width="0.8" stroke-dasharray="1.2 1.2"/>
<circle cx="433.6" cy="184.6" r="1.7" fill="white" stroke="#555" stroke-width="0.8"/>
<text x="440.8" y="187.7" font-size="8.9" textLength="61.9" lengthAdjust="spacingAndGlyphs">Isotype-IgG1-nf</text>
<text x="57.7" y="275.8" font-size="9.3" text-anchor="middle" textLength="32.7" lengthAdjust="spacingAndGlyphs">NSCLC</text>
<text x="57.7" y="286" font-size="9.2" text-anchor="middle" textLength="57.7" lengthAdjust="spacingAndGlyphs">Treg depletion</text>
<line x1="26.2" y1="298.7" x2="26.2" y2="375.9" stroke="#333" stroke-width="1" />
<line x1="23.1" y1="375.4" x2="26.2" y2="375.4" stroke="#333" stroke-width="1" />
<text x="22.5" y="377.7" font-size="6.4" text-anchor="end">0</text>
<line x1="23.1" y1="362.62" x2="26.2" y2="362.62" stroke="#333" stroke-width="1" />
<text x="22.5" y="364.92" font-size="6.4" text-anchor="end">10</text>
<line x1="23.1" y1="349.84" x2="26.2" y2="349.84" stroke="#333" stroke-width="1" />
<text x="22.5" y="352.14" font-size="6.4" text-anchor="end">20</text>
<line x1="23.1" y1="337.06" x2="26.2" y2="337.06" stroke="#333" stroke-width="1" />
<text x="22.5" y="339.36" font-size="6.4" text-anchor="end">30</text>
<line x1="23.1" y1="324.28" x2="26.2" y2="324.28" stroke="#333" stroke-width="1" />
<text x="22.5" y="326.58" font-size="6.4" text-anchor="end">40</text>
<line x1="23.1" y1="311.5" x2="26.2" y2="311.5" stroke="#333" stroke-width="1" />
<text x="22.5" y="313.8" font-size="6.4" text-anchor="end">50</text>
<line x1="23.1" y1="298.72" x2="26.2" y2="298.72" stroke="#333" stroke-width="1" />
<text x="22.5" y="301.02" font-size="6.4" text-anchor="end">60</text>
<line x1="25.7" y1="375.4" x2="90.4" y2="375.4" stroke="#333" stroke-width="1" />
<line x1="38.8" y1="375.4" x2="38.8" y2="378.6" stroke="#333" stroke-width="1" />
<line x1="58.1" y1="375.4" x2="58.1" y2="378.6" stroke="#333" stroke-width="1" />
<line x1="77.3" y1="375.4" x2="77.3" y2="378.6" stroke="#333" stroke-width="1" />
<text x="0" y="0" transform="translate(7.8 383.6) rotate(-90)" font-size="9.4" textLength="91.6" lengthAdjust="spacingAndGlyphs">% Treg of CD4 T cells</text>
<polyline points="39,316.3 39,312.5 58.75,312.5 58.75,316.3" fill="none" stroke="#333" stroke-width="1" />
<polyline points="58.5,302.3 58.5,297.8 77.5,297.8 77.5,302.3" fill="none" stroke="#333" stroke-width="1" />
<circle cx="41.6" cy="307.8" r="1.35" fill="#111"/>
<circle cx="61.6" cy="293.2" r="1.35" fill="#111"/>
<circle cx="46.2" cy="307.8" r="1.35" fill="#111"/>
<circle cx="66.2" cy="293.2" r="1.35" fill="#111"/>
<circle cx="50.8" cy="307.8" r="1.35" fill="#111"/>
<circle cx="70.8" cy="293.2" r="1.35" fill="#111"/>
<circle cx="55.4" cy="307.8" r="1.35" fill="#111"/>
<circle cx="75.4" cy="293.2" r="1.35" fill="#111"/>
<line x1="32.5" y1="322.9" x2="45.6" y2="322.9" stroke="#444" stroke-width="0.8" />
<circle cx="34.4" cy="324.6" r="2" fill="white" stroke="#333" stroke-width="0.9"/>
<circle cx="38.75" cy="320.9" r="2" fill="white" stroke="#333" stroke-width="0.9"/>
<circle cx="39.8" cy="324.4" r="2" fill="white" stroke="#333" stroke-width="0.9"/>
<circle cx="43.75" cy="324" r="2" fill="white" stroke="#333" stroke-width="0.9"/>
<circle cx="53.5" cy="360.3" r="1.9" fill="#971d99"/>
<circle cx="58.4" cy="359.6" r="1.9" fill="#971d99"/>
<circle cx="63" cy="360" r="1.9" fill="#971d99"/>
<line x1="52" y1="360" x2="64.5" y2="360" stroke="#971d99" stroke-width="0.8" />
<line x1="77.3" y1="317.3" x2="77.3" y2="326.3" stroke="#444" stroke-width="0.8" />
<line x1="75.9" y1="326.3" x2="79.3" y2="326.3" stroke="#444" stroke-width="0.8" />
<line x1="71.3" y1="321.4" x2="79.9" y2="321.4" stroke="#444" stroke-width="0.8" />
<polygon points="77.3,314.71 75.2,318.36 79.4,318.36" fill="white" stroke="#333" stroke-width="0.9"/>
<line x1="74.6" y1="317.4" x2="80" y2="317.4" stroke="#444" stroke-width="0.8" />
<polygon points="73,323.92 71.1,327.22 74.9,327.22" fill="white" stroke="#333" stroke-width="0.9"/>
<polygon points="81.9,320.62 80,323.92 83.8,323.92" fill="white" stroke="#333" stroke-width="0.9"/>
<circle cx="104.2" cy="307.2" r="1.75" fill="white" stroke="#333" stroke-width="0.9"/>
<text x="109.9" y="310.9" font-size="9.4" textLength="64.2" lengthAdjust="spacingAndGlyphs">Isotype-IgG1-nf</text>
<circle cx="104.2" cy="319" r="2" fill="#971d99"/>
<text x="109.9" y="322.9" font-size="9.4" textLength="68.4" lengthAdjust="spacingAndGlyphs">CCR8.1-IgG1-nf</text>
<polygon points="104.2,329.12 102.4,332.25 106,332.25" fill="white" stroke="#333" stroke-width="0.9"/>
<text x="109.9" y="334.4" font-size="9.4" textLength="78.8" lengthAdjust="spacingAndGlyphs">CCR8.1-IgG1-inert</text>
<text x="272.6" y="274.3" font-size="9.8" text-anchor="middle" textLength="91.4" lengthAdjust="spacingAndGlyphs">Renal cell carcinoma</text>
<text x="271.8" y="286" font-size="9.6" text-anchor="middle" textLength="60.2" lengthAdjust="spacingAndGlyphs">Treg depletion</text>
<line x1="244.2" y1="297.8" x2="244.2" y2="378.6" stroke="#333" stroke-width="1" />
<line x1="241.6" y1="378.1" x2="244.2" y2="378.1" stroke="#333" stroke-width="1" />
<text x="241" y="380.69" font-size="7.2" text-anchor="end">0</text>
<line x1="241.6" y1="358.1" x2="244.2" y2="358.1" stroke="#333" stroke-width="1" />
<text x="241" y="360.69" font-size="7.2" text-anchor="end">10</text>
<line x1="241.6" y1="338.1" x2="244.2" y2="338.1" stroke="#333" stroke-width="1" />
<text x="241" y="340.69" font-size="7.2" text-anchor="end">20</text>
<line x1="241.6" y1="318.1" x2="244.2" y2="318.1" stroke="#333" stroke-width="1" />
<text x="241" y="320.69" font-size="7.2" text-anchor="end">30</text>
<line x1="241.6" y1="298.1" x2="244.2" y2="298.1" stroke="#333" stroke-width="1" />
<text x="241" y="300.69" font-size="7.2" text-anchor="end">40</text>
<line x1="243.7" y1="378.1" x2="302" y2="378.1" stroke="#333" stroke-width="1" />
<line x1="260.6" y1="378.1" x2="260.6" y2="380.6" stroke="#333" stroke-width="1" />
<line x1="285" y1="378.1" x2="285" y2="380.6" stroke="#333" stroke-width="1" />
<text x="0" y="0" transform="translate(222.5 386.2) rotate(-90)" font-size="9.7" textLength="94.2" lengthAdjust="spacingAndGlyphs">% Treg of CD4 T cells</text>
<polyline points="260.3,311.3 260.3,308.1 285.3,308.1 285.3,311.3" fill="none" stroke="#333" stroke-width="1" />
<circle cx="273.1" cy="302.5" r="1.35" fill="#111"/>
<line x1="252" y1="333.2" x2="268" y2="333.2" stroke="#333" stroke-width="0.8" />
<circle cx="256.4" cy="336.1" r="1.9" fill="white" stroke="#333" stroke-width="0.85"/>
<circle cx="260.4" cy="336.2" r="1.9" fill="white" stroke="#333" stroke-width="0.85"/>
<circle cx="264.2" cy="336" r="1.9" fill="white" stroke="#333" stroke-width="0.85"/>
<circle cx="260.2" cy="328.6" r="1.8" fill="white" stroke="#333" stroke-width="0.85"/>
<line x1="260.2" y1="329.3" x2="260.2" y2="333.2" stroke="#333" stroke-width="0.8" />
<line x1="256.6" y1="329.3" x2="263.9" y2="329.3" stroke="#333" stroke-width="0.8" />
<line x1="277.3" y1="358.9" x2="292.7" y2="358.9" stroke="#a040a0" stroke-width="0.8" />
<line x1="284.8" y1="355.2" x2="284.8" y2="361.8" stroke="#a040a0" stroke-width="0.8" />
<line x1="282.9" y1="355.2" x2="286.7" y2="355.2" stroke="#a040a0" stroke-width="0.8" />
<line x1="282.9" y1="361.8" x2="286.7" y2="361.8" stroke="#a040a0" stroke-width="0.8" />
<circle cx="280.8" cy="356.8" r="2" fill="#971d99"/>
<circle cx="288.9" cy="355.4" r="2" fill="#971d99"/>
<circle cx="288.5" cy="360.4" r="2" fill="#971d99"/>
<circle cx="280.8" cy="363.1" r="2" fill="#971d99"/>
<text x="397.9" y="276.2" font-size="9.8" text-anchor="middle" textLength="63.5" lengthAdjust="spacingAndGlyphs">Gastric cancer</text>
<text x="398.4" y="286" font-size="9.7" text-anchor="middle" textLength="61.1" lengthAdjust="spacingAndGlyphs">Treg depletion</text>
<line x1="368.6" y1="297.6" x2="368.6" y2="379.1" stroke="#333" stroke-width="1" />
<line x1="366" y1="378.6" x2="368.6" y2="378.6" stroke="#333" stroke-width="1" />
<text x="365.4" y="381.12" font-size="7" text-anchor="end">0</text>
<line x1="366" y1="365.1" x2="368.6" y2="365.1" stroke="#333" stroke-width="1" />
<text x="365.4" y="367.62" font-size="7" text-anchor="end">10</text>
<line x1="366" y1="351.6" x2="368.6" y2="351.6" stroke="#333" stroke-width="1" />
<text x="365.4" y="354.12" font-size="7" text-anchor="end">20</text>
<line x1="366" y1="338.1" x2="368.6" y2="338.1" stroke="#333" stroke-width="1" />
<text x="365.4" y="340.62" font-size="7" text-anchor="end">30</text>
<line x1="366" y1="324.6" x2="368.6" y2="324.6" stroke="#333" stroke-width="1" />
<text x="365.4" y="327.12" font-size="7" text-anchor="end">40</text>
<line x1="366" y1="311.1" x2="368.6" y2="311.1" stroke="#333" stroke-width="1" />
<text x="365.4" y="313.62" font-size="7" text-anchor="end">50</text>
<line x1="366" y1="297.6" x2="368.6" y2="297.6" stroke="#333" stroke-width="1" />
<text x="365.4" y="300.12" font-size="7" text-anchor="end">60</text>
<line x1="368" y1="378.6" x2="425.5" y2="378.6" stroke="#333" stroke-width="1" />
<line x1="385.6" y1="378.6" x2="385.6" y2="380.9" stroke="#333" stroke-width="1" />
<line x1="409.8" y1="378.6" x2="409.8" y2="380.9" stroke="#333" stroke-width="1" />
<text x="0" y="0" transform="translate(346.7 386) rotate(-90)" font-size="10" textLength="97.4" lengthAdjust="spacingAndGlyphs">% Treg of CD4 T cells</text>
<polyline points="385.2,310 385.2,306.5 410,306.5 410,310" fill="none" stroke="#333" stroke-width="1" />
<circle cx="397.8" cy="301.5" r="1.35" fill="#111"/>
<line x1="377" y1="322.3" x2="393" y2="322.3" stroke="#333" stroke-width="0.8" />
<circle cx="378.8" cy="322.2" r="2.1" fill="none" stroke="#333" stroke-width="0.85"/>
<circle cx="385.1" cy="322.2" r="2.1" fill="none" stroke="#333" stroke-width="0.85"/>
<circle cx="391.2" cy="322.2" r="2.1" fill="none" stroke="#333" stroke-width="0.85"/>
<line x1="409.8" y1="334.4" x2="409.8" y2="355.5" stroke="#8c3c8c" stroke-width="0.85" />
<line x1="406.2" y1="334.4" x2="413.9" y2="334.4" stroke="#8c3c8c" stroke-width="0.85" />
<line x1="406.2" y1="355.5" x2="413.9" y2="355.5" stroke="#8c3c8c" stroke-width="0.85" />
<line x1="401.3" y1="345" x2="418.7" y2="345" stroke="#8c3c8c" stroke-width="0.85" />
<circle cx="405.5" cy="336.4" r="2" fill="#971d99"/>
<circle cx="414" cy="338.6" r="2" fill="#971d99"/>
<circle cx="405.5" cy="342.3" r="2" fill="#971d99"/>
<circle cx="414" cy="345.3" r="2" fill="#971d99"/>
<circle cx="409.8" cy="362.3" r="2" fill="#971d99"/>
<circle cx="432.7" cy="317.9" r="2.1" fill="white" stroke="#333" stroke-width="0.9"/>
<text x="437.8" y="321.5" font-size="9.6" textLength="67.6" lengthAdjust="spacingAndGlyphs">Isotype-IgG1-nf</text>
<circle cx="432.7" cy="331.9" r="2" fill="#971d99"/>
<text x="437.8" y="335.3" font-size="9.6" textLength="72.2" lengthAdjust="spacingAndGlyphs">CCR8.1-IgG1-nf</text>
</svg>
</body></html>
